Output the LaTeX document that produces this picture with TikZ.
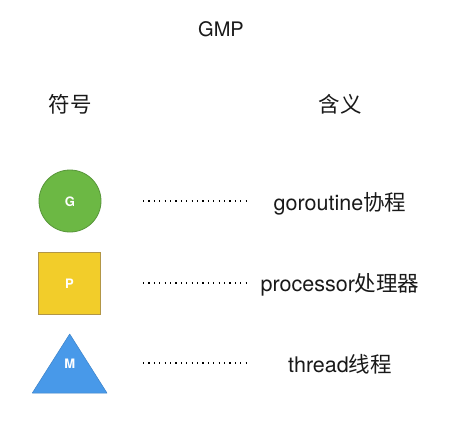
\documentclass[tikz,border=0pt]{standalone}
\usepackage{fontspec}
\setmainfont{TeX Gyre Heros}
\newfontfamily\cjk{Noto Sans CJK SC}
\definecolor{ggreen}{RGB}{108,184,68}
\definecolor{ggreenb}{RGB}{88,150,58}
\definecolor{pyellow}{RGB}{242,205,42}
\definecolor{pyellowb}{RGB}{178,150,70}
\definecolor{mblue}{RGB}{72,153,233}
\definecolor{mblueb}{RGB}{60,130,200}
\definecolor{txt}{RGB}{25,25,25}
\begin{document}
\begin{tikzpicture}[x=1pt,y=-1pt,
  title/.style={font=\fontsize{20}{24}\selectfont, text=txt, anchor=base, inner sep=0pt},
  head/.style={font=\fontsize{21.5}{26}\selectfont\cjk, text=txt, anchor=base, inner sep=0pt},
  meaning/.style={font=\fontsize{21.5}{26}\selectfont, text=txt, anchor=base, inner sep=0pt},
  sym/.style={font=\fontsize{13}{15}\selectfont\bfseries, text=white, inner sep=0pt},
  dotline/.style={line width=1.3pt, dash pattern=on 1.1pt off 4.3pt, black}
]
\useasboundingbox[fill=white] (0,0) rectangle (474,424);

\node[title] (gmp) at (221,36) {GMP};
\node[head] (symh) at (70,112) {符号};
\node[head] (meanh) at (340,112) {含义};

% G
\node[circle, minimum size=62pt, fill=ggreen, draw=ggreenb, line width=0.8pt, inner sep=0pt] (g) at (70,201) {};
\node[sym] (glabel) at (70,201.5) {G};
% P
\node[rectangle, minimum size=62pt, fill=pyellow, draw=pyellowb, line width=0.8pt, inner sep=0pt] (p) at (69.5,283) {};
\node[sym] (plabel) at (69.5,284) {P};
% M
\coordinate (mtop) at (69.7,334);
\coordinate (mleft) at (32.3,393);
\coordinate (mright) at (107,393);
\fill[mblue] (mtop) -- (mleft) -- (mright) -- cycle;
\draw[mblueb, line width=0.5pt, line join=round] (mtop) -- (mleft) -- (mright) -- cycle;
\node[sym] (mlabel) at (69.7,364) {M};

% dotted connectors
\coordinate (d1a) at (143,201); \coordinate (d1b) at (247,201);
\coordinate (d2a) at (143,283); \coordinate (d2b) at (247,283);
\coordinate (d3a) at (143,363); \coordinate (d3b) at (247,363);
\draw[dotline] (d1a) -- (d1b);
\draw[dotline] (d2a) -- (d2b);
\draw[dotline] (d3a) -- (d3b);

% meanings
\node[meaning] (gm) at (340,210) {goroutine{\cjk 协程}};
\node[meaning] (pm) at (340,291.5) {processor{\cjk 处理器}};
\node[meaning] (mm) at (340,372.5) {thread{\cjk 线程}};
\end{tikzpicture}
\end{document}
